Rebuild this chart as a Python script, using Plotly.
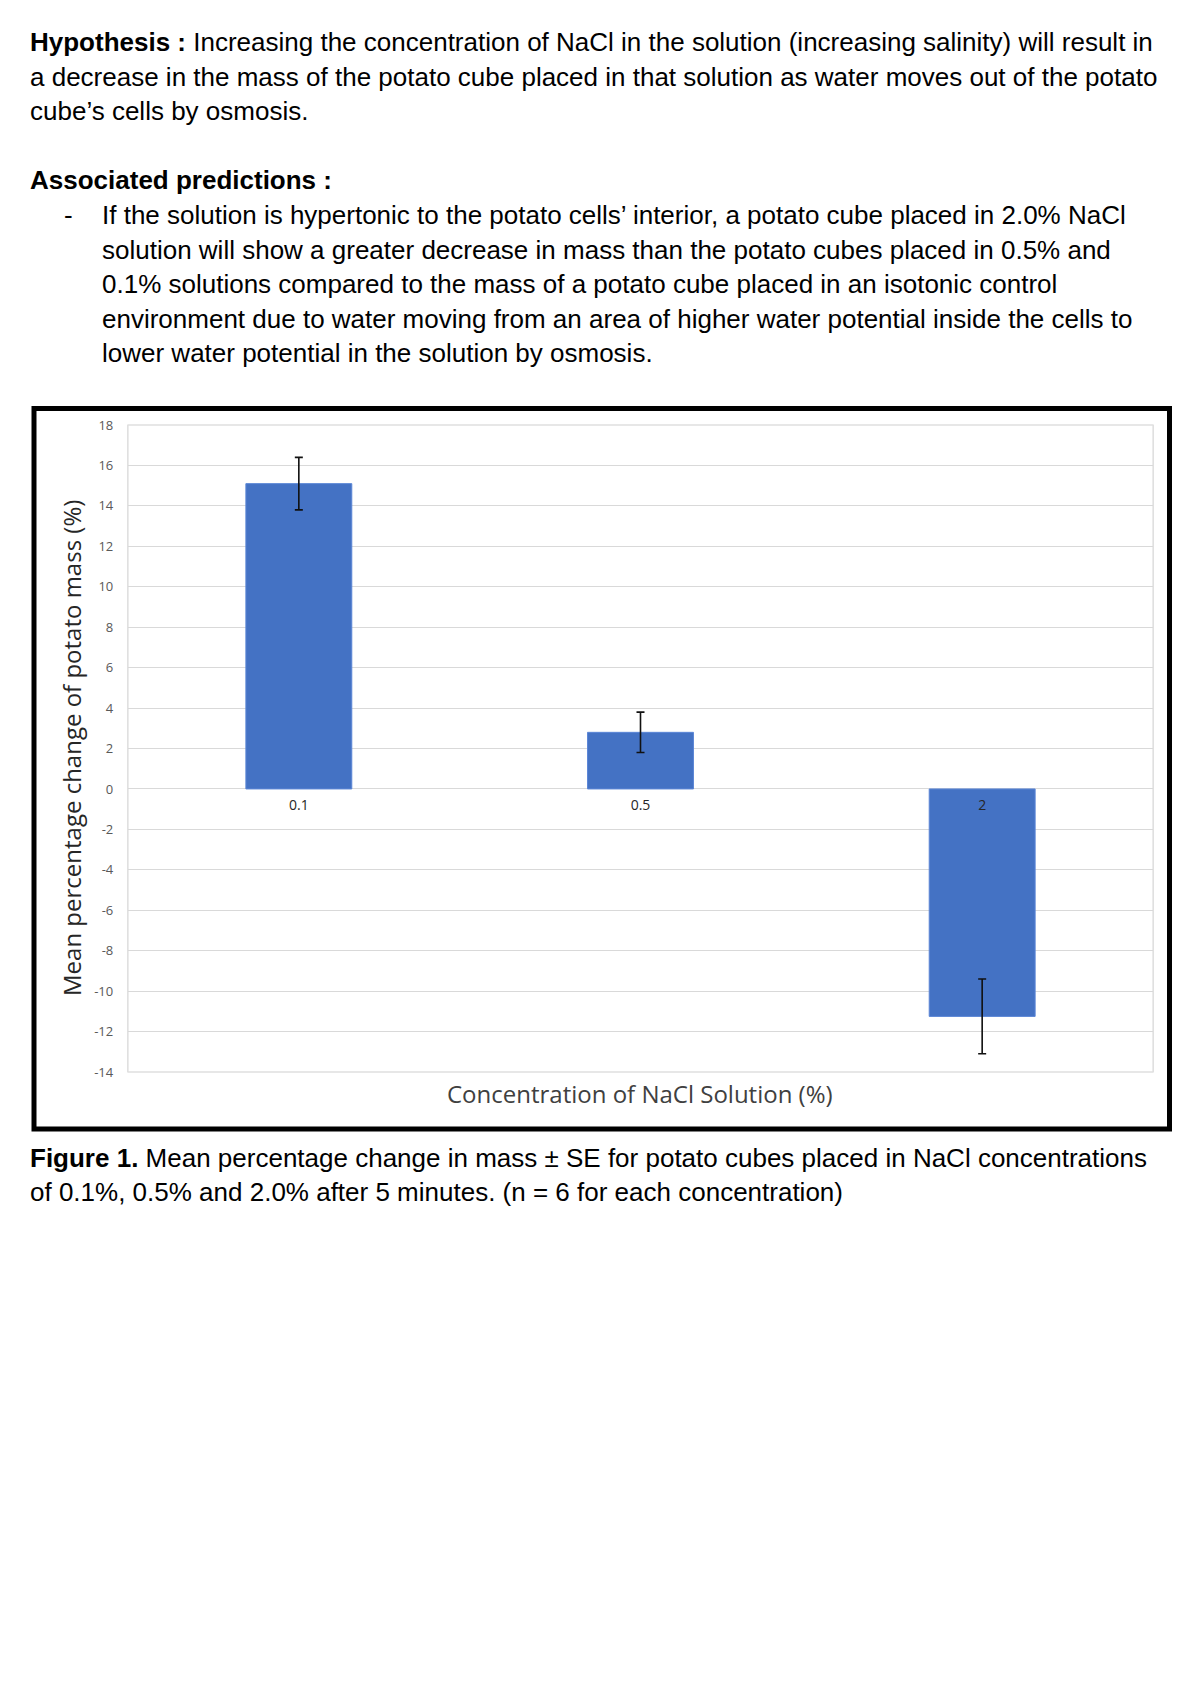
import plotly.graph_objects as go

# ---- data ----
concentrations = ["0.1", "0.5", "2"]
mean_change = [15.1, 2.8, -11.25]
se = [1.3, 1.0, 1.85]
y_ticks = [18, 16, 14, 12, 10, 8, 6, 4, 2, 0, -2, -4, -6, -8, -10, -12, -14]
y_tick_text = ["18", "16", "14", "12", "10", "8", "6", "4", "2", "0",
               "-2", "-4", "-6", "-8", "-10", "-12", "-14"]

# page is 1200x1694; the html body adds an 8px margin around the figure
PAGE_W, PAGE_H = 1200, 1694
OFF_X, OFF_Y = 8, 8
W, H = PAGE_W - 2 * OFF_X, PAGE_H - 2 * OFF_Y


def px(x):
    return (x - OFF_X) / W


def py(y):
    return 1 - (y - OFF_Y) / H


# plot area in page pixels
PL, PR, PT, PB = 128, 1153, 425, 1072
YMIN, YMAX = -14, 18
ydom = [py(PB), py(PT)]
zero_pos = ydom[0] + (0 - YMIN) / (YMAX - YMIN) * (ydom[1] - ydom[0])

fig = go.Figure()
fig.add_trace(go.Bar(
    x=concentrations, y=mean_change,
    marker=dict(color="#4472C4", line=dict(color="#5B86D6", width=1)),
    width=0.31,
    error_y=dict(type="data", array=se, visible=True, color="#111111",
                 thickness=1.6, width=4),
    hoverinfo="x+y",
))

fig.update_layout(
    width=W, height=H,
    margin=dict(l=0, r=0, t=0, b=0, autoexpand=False),
    paper_bgcolor="white", plot_bgcolor="white",
    showlegend=False,
    xaxis=dict(
        domain=[px(PL), px(PR)],
        type="category", automargin=False,
        anchor="free", position=zero_pos,
        showgrid=False, showline=False, zeroline=False,
        ticks="", ticklabelstandoff=6,
        tickfont=dict(family="Open Sans", size=14, color="#262626"),
    ),
    yaxis=dict(
        domain=ydom, automargin=False,
        range=[YMIN, YMAX],
        tickmode="array", tickvals=y_ticks, ticktext=y_tick_text,
        showgrid=True, gridcolor="#d9d9d9", gridwidth=1.3,
        zeroline=True, zerolinecolor="#d9d9d9", zerolinewidth=1.3,
        showline=True, linecolor="#e0e0e0", linewidth=1.3, mirror=True,
        ticks="", ticklabelstandoff=11,
        tickfont=dict(family="Open Sans", size=13, color="#595959"),
    ),
)

# chart frame
fig.add_shape(type="rect", xref="paper", yref="paper",
              x0=px(34), x1=px(1169.5), y0=py(1129), y1=py(408.5),
              line=dict(color="black", width=5), layer="above")
# plot-area border
fig.add_shape(type="rect", xref="paper", yref="paper",
              x0=px(PL), x1=px(PR), y0=py(PB), y1=py(PT),
              line=dict(color="#e0e0e0", width=1.3), layer="below")

# axis titles
fig.add_annotation(xref="paper", yref="paper", x=px(640), y=py(1093),
                   text="Concentration of NaCl Solution (%)", showarrow=False,
                   xanchor="center", yanchor="middle",
                   font=dict(family="Open Sans", size=24, color="#404040"))
fig.add_annotation(xref="paper", yref="paper", x=px(71), y=py(748),
                   text="Mean percentage change of potato mass (%)", showarrow=False,
                   textangle=-90, xanchor="center", yanchor="middle",
                   font=dict(family="Open Sans", size=24, color="#262626"))

# body text
body_font = dict(family="Liberation Sans, Arial", size=26, color="black")
lines = [
    (28, 42, "<b>Hypothesis :</b> Increasing the concentration of NaCl in the solution (increasing salinity) will result in"),
    (28, 76.5, "a decrease in the mass of the potato cube placed in that solution as water moves out of the potato"),
    (28, 111, "cube’s cells by osmosis."),
    (28, 180, "<b>Associated predictions :</b>"),
    (62, 215.5, "-"),
    (100, 215.5, "If the solution is hypertonic to the potato cells’ interior, a potato cube placed in 2.0% NaCl"),
    (100, 250, "solution will show a greater decrease in mass than the potato cubes placed in 0.5% and"),
    (100, 284, "0.1% solutions compared to the mass of a potato cube placed in an isotonic control"),
    (100, 318.5, "environment due to water moving from an area of higher water potential inside the cells to"),
    (100, 353, "lower water potential in the solution by osmosis."),
    (28, 1158, "<b>Figure 1.</b> Mean percentage change in mass ± SE for potato cubes placed in NaCl concentrations"),
    (28, 1192, "of 0.1%, 0.5% and 2.0% after 5 minutes. (n = 6 for each concentration)"),
]
for x, y, t in lines:
    fig.add_annotation(xref="paper", yref="paper", x=px(x), y=py(y), text=t,
                       showarrow=False, xanchor="left", yanchor="middle",
                       align="left", font=body_font)

fig.write_html("out.html")
